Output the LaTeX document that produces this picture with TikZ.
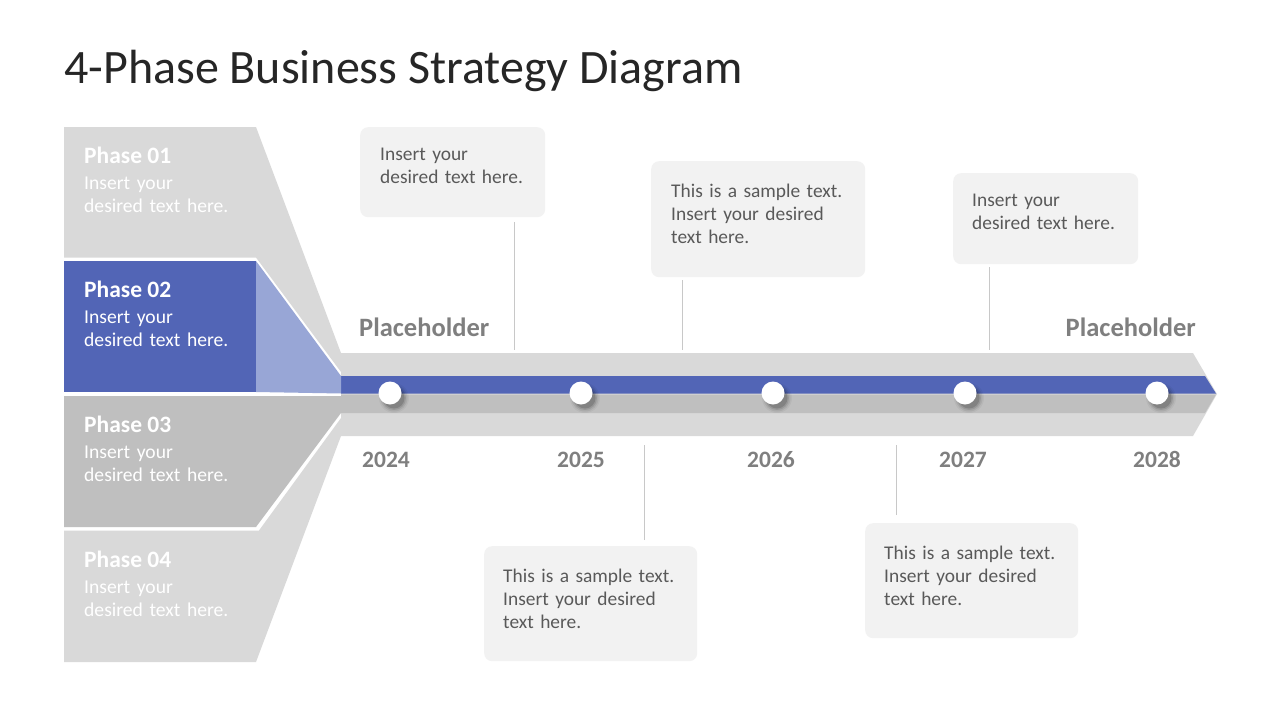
\documentclass[tikz,border=0pt]{standalone}
\usepackage{fontspec}
\setmainfont{Carlito}
\usetikzlibrary{calc}
\definecolor{bluec}{RGB}{82,101,182}
\definecolor{lblue}{RGB}{152,166,214}
\definecolor{lgray}{RGB}{217,217,217}
\definecolor{mgray}{RGB}{191,191,191}
\definecolor{boxc}{RGB}{242,242,242}
\definecolor{txtc}{RGB}{89,89,89}
\definecolor{phc}{RGB}{127,127,127}
\definecolor{titlec}{RGB}{38,38,38}
\definecolor{connc}{RGB}{200,200,200}
\begin{document}
\begin{tikzpicture}[x=1pt,y=-1pt,
  phtitle/.style={font=\fontsize{23.5}{27}\selectfont\bfseries, text=white, anchor=base west, inner sep=0},
  phtext/.style={font=\fontsize{19.6}{23}\selectfont, text=white, anchor=base west, inner sep=0, align=left, text width=200pt},
  tbox/.style={fill=boxc, rounded corners=8pt, inner sep=0, anchor=north west},
  btext/.style={font=\fontsize{19.4}{23}\selectfont, text=txtc, anchor=base west, inner sep=0, align=left, text width=220pt},
  plh/.style={font=\fontsize{26.5}{30}\selectfont\bfseries, text=phc, inner sep=0},
  yr/.style={font=\fontsize{23.5}{27}\selectfont\bfseries, text=phc, inner sep=0, anchor=base},
  dot/.style={circle, fill=white, minimum size=23pt, inner sep=0},
  conn/.style={draw=connc, line width=1pt}
]
\useasboundingbox (0,0) rectangle (1280,720);
\fill[white] (0,0) rectangle (1280,720);

% title
\node[anchor=base west, font=\fontsize{48}{56}\selectfont, text=titlec, inner sep=0] (title) at (64,83) {4-Phase Business Strategy Diagram};

% arrow body
\fill[lgray] (341,353) -- (1193,353) -- (1217,394) -- (1193,436) -- (341,436) -- cycle;
\fill[bluec] (341,376) -- (1205,376) -- (1216,393.5) -- (341,393.5) -- cycle;
\fill[mgray] (341,394.5) -- (1216,394.5) -- (1205,413) -- (341,413) -- cycle;

% phase shapes
\fill[lgray] (64,127) -- (256,127) -- (341,353) -- (341,372) -- (256,257.5) -- (64,257.5) -- cycle;
\fill[bluec] (64,261) rectangle (256,392);
\fill[lblue] (256,261) -- (341,376) -- (341,393.5) -- (256,392) -- cycle;
\fill[mgray] (64,396) -- (341,396) -- (341,413) -- (256,527) -- (64,527) -- cycle;
\fill[lgray] (64,530.5) -- (259,530.5) -- (341,418) -- (341,436) -- (256,662) -- (64,662) -- cycle;

% phase texts
\node[phtitle] (p1t) at (84,163.5) {Phase 01};
\node[phtext] (p1b) at (84,189) {Insert your\\desired text here.};
\node[phtitle] (p2t) at (84,297.5) {Phase 02};
\node[phtext] (p2b) at (84,323) {Insert your\\desired text here.};
\node[phtitle] (p3t) at (84,432.5) {Phase 03};
\node[phtext] (p3b) at (84,458) {Insert your\\desired text here.};
\node[phtitle] (p4t) at (84,567.5) {Phase 04};
\node[phtext] (p4b) at (84,593) {Insert your\\desired text here.};

% placeholders
\node[plh, anchor=base west] (plL) at (359,336) {Placeholder};
\node[plh, anchor=base east] (plR) at (1196,336) {Placeholder};

% dots with shadows
\foreach \x [count=\i] in {390,581,773,965,1157}{
  \foreach \r/\op in {15/0.04,13.5/0.07,12/0.1,10.5/0.14}
    \fill[black,opacity=\op] (\x+4,398) circle (\r pt);
  \node[dot] (d\i) at (\x,393) {};
}

% years
\node[yr] (y1) at (386,467.5) {2024};
\node[yr] (y2) at (581,467.5) {2025};
\node[yr] (y3) at (771,467.5) {2026};
\node[yr] (y4) at (963,467.5) {2027};
\node[yr] (y5) at (1157,467.5) {2028};

% text boxes
\node[tbox, minimum width=185pt, minimum height=90pt] (b1) at (360,127) {};
\node[btext] (t1) at (380,160) {Insert your\\desired text here.};
\node[tbox, minimum width=214pt, minimum height=116pt] (b2) at (651,161) {};
\node[btext] (t2) at (671,197) {This is a sample text.\\Insert your desired\\text here.};
\node[tbox, minimum width=185pt, minimum height=91pt] (b3) at (953,173) {};
\node[btext] (t3) at (972,206) {Insert your\\desired text here.};
\node[tbox, minimum width=213pt, minimum height=115pt] (b4) at (484,546) {};
\node[btext] (t4) at (503,582) {This is a sample text.\\Insert your desired\\text here.};
\node[tbox, minimum width=213pt, minimum height=115pt] (b5) at (865,523) {};
\node[btext] (t5) at (884,559) {This is a sample text.\\Insert your desired\\text here.};

% connectors
\coordinate (c1) at (514,350);
\coordinate (c2) at (682,350);
\coordinate (c3) at (989,350);
\coordinate (c4) at (644,445);
\coordinate (c5) at (896,445);
\draw[conn] ($(b1.south -| c1)+(0,5)$) -- (c1);
\draw[conn] ($(b2.south -| c2)+(0,3)$) -- (c2);
\draw[conn] ($(b3.south -| c3)+(0,3)$) -- (c3);
\draw[conn] ($(b4.north -| c4)+(0,-6)$) -- (c4);
\draw[conn] ($(b5.north -| c5)+(0,-8)$) -- (c5);
\end{tikzpicture}
\end{document}
